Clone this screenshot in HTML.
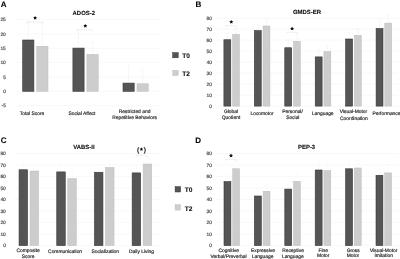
<!DOCTYPE html>
<html><head><meta charset="utf-8"><style>
html,body{margin:0;padding:0;background:#fff;width:400px;height:259px;overflow:hidden}
svg{display:block;filter:grayscale(1) blur(0.35px);text-rendering:geometricPrecision;font-family:"Liberation Sans",sans-serif}
</style></head><body>
<svg width="400" height="259" viewBox="0 0 400 259">
<rect width="400" height="259" fill="#fff"/>
<line x1="14.00" y1="19.55" x2="160.00" y2="19.55" stroke="#f4f4f4" stroke-width="0.6"/>
<text x="5.80" y="21.28" font-size="4.8" text-anchor="end" fill="#444" stroke="#444" stroke-linejoin="round" stroke-width="0.16">25</text>
<line x1="14.00" y1="33.90" x2="160.00" y2="33.90" stroke="#f4f4f4" stroke-width="0.6"/>
<text x="5.80" y="35.63" font-size="4.8" text-anchor="end" fill="#444" stroke="#444" stroke-linejoin="round" stroke-width="0.16">20</text>
<line x1="14.00" y1="48.25" x2="160.00" y2="48.25" stroke="#f4f4f4" stroke-width="0.6"/>
<text x="5.80" y="49.98" font-size="4.8" text-anchor="end" fill="#444" stroke="#444" stroke-linejoin="round" stroke-width="0.16">15</text>
<line x1="14.00" y1="62.60" x2="160.00" y2="62.60" stroke="#f4f4f4" stroke-width="0.6"/>
<text x="5.80" y="64.33" font-size="4.8" text-anchor="end" fill="#444" stroke="#444" stroke-linejoin="round" stroke-width="0.16">10</text>
<line x1="14.00" y1="76.95" x2="160.00" y2="76.95" stroke="#f4f4f4" stroke-width="0.6"/>
<text x="5.80" y="78.68" font-size="4.8" text-anchor="end" fill="#444" stroke="#444" stroke-linejoin="round" stroke-width="0.16">5</text>
<line x1="14.00" y1="91.30" x2="160.00" y2="91.30" stroke="#f4f4f4" stroke-width="0.6"/>
<text x="5.80" y="93.03" font-size="4.8" text-anchor="end" fill="#444" stroke="#444" stroke-linejoin="round" stroke-width="0.16">0</text>
<line x1="14.00" y1="105.65" x2="160.00" y2="105.65" stroke="#f4f4f4" stroke-width="0.6"/>
<text x="5.80" y="107.38" font-size="4.8" text-anchor="end" fill="#444" stroke="#444" stroke-linejoin="round" stroke-width="0.16">-5</text>
<line x1="28.30" y1="22.00" x2="28.30" y2="40.00" stroke="#efefef" stroke-width="0.5"/>
<line x1="26.30" y1="22.00" x2="30.30" y2="22.00" stroke="#efefef" stroke-width="0.4"/>
<line x1="42.35" y1="24.00" x2="42.35" y2="46.25" stroke="#efefef" stroke-width="0.5"/>
<line x1="40.35" y1="24.00" x2="44.35" y2="24.00" stroke="#efefef" stroke-width="0.4"/>
<rect x="22.70" y="40.00" width="11.20" height="51.30" fill="#555555" stroke="#383838" stroke-width="0.6"/>
<rect x="36.70" y="46.25" width="11.30" height="45.05" fill="#cdcdcd" stroke="#bdbdbd" stroke-width="0.5"/>
<line x1="78.50" y1="32.00" x2="78.50" y2="48.10" stroke="#efefef" stroke-width="0.5"/>
<line x1="76.50" y1="32.00" x2="80.50" y2="32.00" stroke="#efefef" stroke-width="0.4"/>
<line x1="92.55" y1="42.00" x2="92.55" y2="54.40" stroke="#efefef" stroke-width="0.5"/>
<line x1="90.55" y1="42.00" x2="94.55" y2="42.00" stroke="#efefef" stroke-width="0.4"/>
<rect x="72.90" y="48.10" width="11.20" height="43.20" fill="#555555" stroke="#383838" stroke-width="0.6"/>
<rect x="86.90" y="54.40" width="11.30" height="36.90" fill="#cdcdcd" stroke="#bdbdbd" stroke-width="0.5"/>
<line x1="128.60" y1="66.00" x2="128.60" y2="83.10" stroke="#efefef" stroke-width="0.5"/>
<line x1="126.60" y1="66.00" x2="130.60" y2="66.00" stroke="#efefef" stroke-width="0.4"/>
<line x1="142.65" y1="70.00" x2="142.65" y2="83.75" stroke="#efefef" stroke-width="0.5"/>
<line x1="140.65" y1="70.00" x2="144.65" y2="70.00" stroke="#efefef" stroke-width="0.4"/>
<rect x="123.00" y="83.10" width="11.20" height="8.20" fill="#555555" stroke="#383838" stroke-width="0.6"/>
<rect x="137.00" y="83.75" width="11.30" height="7.55" fill="#cdcdcd" stroke="#bdbdbd" stroke-width="0.5"/>
<polygon points="35.10,16.00 35.75,17.11 37.00,17.38 36.15,18.34 36.28,19.62 35.10,19.10 33.92,19.62 34.05,18.34 33.20,17.38 34.45,17.11" fill="#111"/>
<line x1="26.60" y1="22.00" x2="42.80" y2="22.00" stroke="#c8c8c8" stroke-width="0.5" stroke-dasharray="1,0.7"/>
<line x1="26.60" y1="22.00" x2="26.60" y2="24.00" stroke="#ddd" stroke-width="0.4"/>
<line x1="42.80" y1="22.00" x2="42.80" y2="24.00" stroke="#ddd" stroke-width="0.4"/>
<polygon points="85.30,23.90 85.95,25.01 87.20,25.28 86.35,26.24 86.48,27.52 85.30,27.00 84.12,27.52 84.25,26.24 83.40,25.28 84.65,25.01" fill="#111"/>
<line x1="77.25" y1="29.75" x2="92.50" y2="29.75" stroke="#c8c8c8" stroke-width="0.5" stroke-dasharray="1,0.7"/>
<line x1="77.25" y1="29.75" x2="77.25" y2="31.75" stroke="#ddd" stroke-width="0.4"/>
<line x1="92.50" y1="29.75" x2="92.50" y2="31.75" stroke="#ddd" stroke-width="0.4"/>
<text x="83.80" y="14.74" font-size="5.95" text-anchor="middle" font-weight="bold" fill="#111" stroke="#111" stroke-linejoin="round" stroke-width="0.1">ADOS-2</text>
<text x="3.60" y="6.78" font-size="8.0" text-anchor="middle" font-weight="bold" fill="#000" stroke="#000" stroke-linejoin="round" stroke-width="0.1">A</text>
<text x="32.00" y="114.76" font-size="4.9" text-anchor="middle" fill="#222" stroke="#222" stroke-linejoin="round" stroke-width="0.16">Total Score</text>
<text x="82.00" y="114.76" font-size="4.9" text-anchor="middle" fill="#222" stroke="#222" stroke-linejoin="round" stroke-width="0.16">Social Affect</text>
<text x="134.60" y="112.51" font-size="4.9" text-anchor="middle" fill="#222" stroke="#222" stroke-linejoin="round" stroke-width="0.16">Restricted and</text>
<text x="134.60" y="118.76" font-size="4.9" text-anchor="middle" fill="#222" stroke="#222" stroke-linejoin="round" stroke-width="0.16">Repetitive Behaviors</text>
<rect x="172.70" y="52.60" width="5.50" height="5.20" fill="#555555" stroke="#383838" stroke-width="0.5"/>
<rect x="172.70" y="70.30" width="5.50" height="5.30" fill="#cdcdcd" stroke="#bdbdbd" stroke-width="0.4"/>
<text x="182.20" y="58.08" font-size="6.6" text-anchor="start" font-weight="bold" fill="#111" stroke="#111" stroke-linejoin="round" stroke-width="0.1">T0</text>
<text x="182.20" y="76.28" font-size="6.6" text-anchor="start" font-weight="bold" fill="#111" stroke="#111" stroke-linejoin="round" stroke-width="0.1">T2</text>
<line x1="216.00" y1="18.12" x2="398.00" y2="18.12" stroke="#f4f4f4" stroke-width="0.6"/>
<text x="211.90" y="19.85" font-size="4.8" text-anchor="end" fill="#444" stroke="#444" stroke-linejoin="round" stroke-width="0.16">80</text>
<line x1="216.00" y1="29.13" x2="398.00" y2="29.13" stroke="#f4f4f4" stroke-width="0.6"/>
<text x="211.90" y="30.86" font-size="4.8" text-anchor="end" fill="#444" stroke="#444" stroke-linejoin="round" stroke-width="0.16">70</text>
<line x1="216.00" y1="40.14" x2="398.00" y2="40.14" stroke="#f4f4f4" stroke-width="0.6"/>
<text x="211.90" y="41.87" font-size="4.8" text-anchor="end" fill="#444" stroke="#444" stroke-linejoin="round" stroke-width="0.16">60</text>
<line x1="216.00" y1="51.15" x2="398.00" y2="51.15" stroke="#f4f4f4" stroke-width="0.6"/>
<text x="211.90" y="52.88" font-size="4.8" text-anchor="end" fill="#444" stroke="#444" stroke-linejoin="round" stroke-width="0.16">50</text>
<line x1="216.00" y1="62.16" x2="398.00" y2="62.16" stroke="#f4f4f4" stroke-width="0.6"/>
<text x="211.90" y="63.89" font-size="4.8" text-anchor="end" fill="#444" stroke="#444" stroke-linejoin="round" stroke-width="0.16">40</text>
<line x1="216.00" y1="73.17" x2="398.00" y2="73.17" stroke="#f4f4f4" stroke-width="0.6"/>
<text x="211.90" y="74.90" font-size="4.8" text-anchor="end" fill="#444" stroke="#444" stroke-linejoin="round" stroke-width="0.16">30</text>
<line x1="216.00" y1="84.18" x2="398.00" y2="84.18" stroke="#f4f4f4" stroke-width="0.6"/>
<text x="211.90" y="85.91" font-size="4.8" text-anchor="end" fill="#444" stroke="#444" stroke-linejoin="round" stroke-width="0.16">20</text>
<line x1="216.00" y1="95.19" x2="398.00" y2="95.19" stroke="#f4f4f4" stroke-width="0.6"/>
<text x="211.90" y="96.92" font-size="4.8" text-anchor="end" fill="#444" stroke="#444" stroke-linejoin="round" stroke-width="0.16">10</text>
<line x1="216.00" y1="106.20" x2="398.00" y2="106.20" stroke="#f4f4f4" stroke-width="0.6"/>
<text x="211.90" y="107.93" font-size="4.8" text-anchor="end" fill="#444" stroke="#444" stroke-linejoin="round" stroke-width="0.16">0</text>
<line x1="227.35" y1="33.00" x2="227.35" y2="39.75" stroke="#efefef" stroke-width="0.5"/>
<line x1="225.35" y1="33.00" x2="229.35" y2="33.00" stroke="#efefef" stroke-width="0.4"/>
<line x1="236.05" y1="28.00" x2="236.05" y2="34.40" stroke="#efefef" stroke-width="0.5"/>
<line x1="234.05" y1="28.00" x2="238.05" y2="28.00" stroke="#efefef" stroke-width="0.4"/>
<rect x="223.90" y="39.75" width="6.90" height="66.35" fill="#555555" stroke="#383838" stroke-width="0.6"/>
<rect x="232.60" y="34.40" width="6.90" height="71.70" fill="#cdcdcd" stroke="#bdbdbd" stroke-width="0.5"/>
<line x1="257.79" y1="24.00" x2="257.79" y2="30.60" stroke="#efefef" stroke-width="0.5"/>
<line x1="255.79" y1="24.00" x2="259.79" y2="24.00" stroke="#efefef" stroke-width="0.4"/>
<line x1="266.49" y1="20.00" x2="266.49" y2="26.00" stroke="#efefef" stroke-width="0.5"/>
<line x1="264.49" y1="20.00" x2="268.49" y2="20.00" stroke="#efefef" stroke-width="0.4"/>
<rect x="254.34" y="30.60" width="6.90" height="75.50" fill="#555555" stroke="#383838" stroke-width="0.6"/>
<rect x="263.04" y="26.00" width="6.90" height="80.10" fill="#cdcdcd" stroke="#bdbdbd" stroke-width="0.5"/>
<line x1="288.23" y1="40.00" x2="288.23" y2="47.75" stroke="#efefef" stroke-width="0.5"/>
<line x1="286.23" y1="40.00" x2="290.23" y2="40.00" stroke="#efefef" stroke-width="0.4"/>
<line x1="296.93" y1="33.00" x2="296.93" y2="41.25" stroke="#efefef" stroke-width="0.5"/>
<line x1="294.93" y1="33.00" x2="298.93" y2="33.00" stroke="#efefef" stroke-width="0.4"/>
<rect x="284.78" y="47.75" width="6.90" height="58.35" fill="#555555" stroke="#383838" stroke-width="0.6"/>
<rect x="293.48" y="41.25" width="6.90" height="64.85" fill="#cdcdcd" stroke="#bdbdbd" stroke-width="0.5"/>
<line x1="318.67" y1="50.00" x2="318.67" y2="56.90" stroke="#efefef" stroke-width="0.5"/>
<line x1="316.67" y1="50.00" x2="320.67" y2="50.00" stroke="#efefef" stroke-width="0.4"/>
<line x1="327.37" y1="45.00" x2="327.37" y2="51.50" stroke="#efefef" stroke-width="0.5"/>
<line x1="325.37" y1="45.00" x2="329.37" y2="45.00" stroke="#efefef" stroke-width="0.4"/>
<rect x="315.22" y="56.90" width="6.90" height="49.20" fill="#555555" stroke="#383838" stroke-width="0.6"/>
<rect x="323.92" y="51.50" width="6.90" height="54.60" fill="#cdcdcd" stroke="#bdbdbd" stroke-width="0.5"/>
<line x1="349.11" y1="32.00" x2="349.11" y2="39.00" stroke="#efefef" stroke-width="0.5"/>
<line x1="347.11" y1="32.00" x2="351.11" y2="32.00" stroke="#efefef" stroke-width="0.4"/>
<line x1="357.81" y1="29.00" x2="357.81" y2="35.40" stroke="#efefef" stroke-width="0.5"/>
<line x1="355.81" y1="29.00" x2="359.81" y2="29.00" stroke="#efefef" stroke-width="0.4"/>
<rect x="345.66" y="39.00" width="6.90" height="67.10" fill="#555555" stroke="#383838" stroke-width="0.6"/>
<rect x="354.36" y="35.40" width="6.90" height="70.70" fill="#cdcdcd" stroke="#bdbdbd" stroke-width="0.5"/>
<line x1="379.55" y1="20.00" x2="379.55" y2="28.50" stroke="#efefef" stroke-width="0.5"/>
<line x1="377.55" y1="20.00" x2="381.55" y2="20.00" stroke="#efefef" stroke-width="0.4"/>
<line x1="388.25" y1="15.00" x2="388.25" y2="23.10" stroke="#efefef" stroke-width="0.5"/>
<line x1="386.25" y1="15.00" x2="390.25" y2="15.00" stroke="#efefef" stroke-width="0.4"/>
<rect x="376.10" y="28.50" width="6.90" height="77.60" fill="#555555" stroke="#383838" stroke-width="0.6"/>
<rect x="384.80" y="23.10" width="6.90" height="83.00" fill="#cdcdcd" stroke="#bdbdbd" stroke-width="0.5"/>
<polygon points="231.25,19.90 231.90,21.01 233.15,21.28 232.30,22.24 232.43,23.52 231.25,23.00 230.07,23.52 230.20,22.24 229.35,21.28 230.60,21.01" fill="#111"/>
<line x1="226.00" y1="25.60" x2="236.00" y2="25.60" stroke="#c8c8c8" stroke-width="0.5" stroke-dasharray="1,0.7"/>
<line x1="226.00" y1="25.60" x2="226.00" y2="27.60" stroke="#ddd" stroke-width="0.4"/>
<line x1="236.00" y1="25.60" x2="236.00" y2="27.60" stroke="#ddd" stroke-width="0.4"/>
<polygon points="292.10,26.75 292.75,27.86 294.00,28.13 293.15,29.09 293.28,30.37 292.10,29.85 290.92,30.37 291.05,29.09 290.20,28.13 291.45,27.86" fill="#111"/>
<line x1="286.90" y1="32.25" x2="297.50" y2="32.25" stroke="#c8c8c8" stroke-width="0.5" stroke-dasharray="1,0.7"/>
<line x1="286.90" y1="32.25" x2="286.90" y2="34.25" stroke="#ddd" stroke-width="0.4"/>
<line x1="297.50" y1="32.25" x2="297.50" y2="34.25" stroke="#ddd" stroke-width="0.4"/>
<text x="306.90" y="14.04" font-size="5.95" text-anchor="middle" font-weight="bold" fill="#111" stroke="#111" stroke-linejoin="round" stroke-width="0.1">GMDS-ER</text>
<text x="198.30" y="7.28" font-size="8.0" text-anchor="middle" font-weight="bold" fill="#000" stroke="#000" stroke-linejoin="round" stroke-width="0.1">B</text>
<text x="231.00" y="113.01" font-size="4.9" text-anchor="middle" fill="#222" stroke="#222" stroke-linejoin="round" stroke-width="0.16">Global</text>
<text x="231.00" y="118.76" font-size="4.9" text-anchor="middle" fill="#222" stroke="#222" stroke-linejoin="round" stroke-width="0.16">Quotient</text>
<text x="262.00" y="114.76" font-size="4.9" text-anchor="middle" fill="#222" stroke="#222" stroke-linejoin="round" stroke-width="0.16">Locomotor</text>
<text x="292.50" y="112.76" font-size="4.9" text-anchor="middle" fill="#222" stroke="#222" stroke-linejoin="round" stroke-width="0.16">Personal/</text>
<text x="292.80" y="118.76" font-size="4.9" text-anchor="middle" fill="#222" stroke="#222" stroke-linejoin="round" stroke-width="0.16">Social</text>
<text x="322.70" y="114.76" font-size="4.9" text-anchor="middle" fill="#222" stroke="#222" stroke-linejoin="round" stroke-width="0.16">Language</text>
<text x="353.50" y="113.01" font-size="4.9" text-anchor="middle" fill="#222" stroke="#222" stroke-linejoin="round" stroke-width="0.16">Visual-Motor</text>
<text x="353.90" y="119.76" font-size="4.9" text-anchor="middle" fill="#222" stroke="#222" stroke-linejoin="round" stroke-width="0.16">Coordination</text>
<text x="386.50" y="114.76" font-size="4.9" text-anchor="middle" fill="#222" stroke="#222" stroke-linejoin="round" stroke-width="0.16">Performance</text>
<line x1="14.00" y1="153.44" x2="160.00" y2="153.44" stroke="#f4f4f4" stroke-width="0.6"/>
<text x="5.80" y="155.17" font-size="4.8" text-anchor="end" fill="#444" stroke="#444" stroke-linejoin="round" stroke-width="0.16">80</text>
<line x1="14.00" y1="164.96" x2="160.00" y2="164.96" stroke="#f4f4f4" stroke-width="0.6"/>
<text x="5.80" y="166.69" font-size="4.8" text-anchor="end" fill="#444" stroke="#444" stroke-linejoin="round" stroke-width="0.16">70</text>
<line x1="14.00" y1="176.48" x2="160.00" y2="176.48" stroke="#f4f4f4" stroke-width="0.6"/>
<text x="5.80" y="178.21" font-size="4.8" text-anchor="end" fill="#444" stroke="#444" stroke-linejoin="round" stroke-width="0.16">60</text>
<line x1="14.00" y1="188.00" x2="160.00" y2="188.00" stroke="#f4f4f4" stroke-width="0.6"/>
<text x="5.80" y="189.73" font-size="4.8" text-anchor="end" fill="#444" stroke="#444" stroke-linejoin="round" stroke-width="0.16">50</text>
<line x1="14.00" y1="199.52" x2="160.00" y2="199.52" stroke="#f4f4f4" stroke-width="0.6"/>
<text x="5.80" y="201.25" font-size="4.8" text-anchor="end" fill="#444" stroke="#444" stroke-linejoin="round" stroke-width="0.16">40</text>
<line x1="14.00" y1="211.04" x2="160.00" y2="211.04" stroke="#f4f4f4" stroke-width="0.6"/>
<text x="5.80" y="212.77" font-size="4.8" text-anchor="end" fill="#444" stroke="#444" stroke-linejoin="round" stroke-width="0.16">30</text>
<line x1="14.00" y1="222.56" x2="160.00" y2="222.56" stroke="#f4f4f4" stroke-width="0.6"/>
<text x="5.80" y="224.29" font-size="4.8" text-anchor="end" fill="#444" stroke="#444" stroke-linejoin="round" stroke-width="0.16">20</text>
<line x1="14.00" y1="234.08" x2="160.00" y2="234.08" stroke="#f4f4f4" stroke-width="0.6"/>
<text x="5.80" y="235.81" font-size="4.8" text-anchor="end" fill="#444" stroke="#444" stroke-linejoin="round" stroke-width="0.16">10</text>
<line x1="14.00" y1="245.60" x2="160.00" y2="245.60" stroke="#f4f4f4" stroke-width="0.6"/>
<text x="5.80" y="247.33" font-size="4.8" text-anchor="end" fill="#444" stroke="#444" stroke-linejoin="round" stroke-width="0.16">0</text>
<line x1="23.30" y1="163.00" x2="23.30" y2="169.75" stroke="#f6f6f6" stroke-width="0.5"/>
<line x1="21.30" y1="163.00" x2="25.30" y2="163.00" stroke="#f6f6f6" stroke-width="0.4"/>
<line x1="34.35" y1="166.00" x2="34.35" y2="171.00" stroke="#f6f6f6" stroke-width="0.5"/>
<line x1="32.35" y1="166.00" x2="36.35" y2="166.00" stroke="#f6f6f6" stroke-width="0.4"/>
<rect x="19.05" y="169.75" width="8.50" height="75.85" fill="#555555" stroke="#383838" stroke-width="0.6"/>
<rect x="30.05" y="171.00" width="8.60" height="74.60" fill="#cdcdcd" stroke="#bdbdbd" stroke-width="0.5"/>
<line x1="61.00" y1="164.00" x2="61.00" y2="171.90" stroke="#f6f6f6" stroke-width="0.5"/>
<line x1="59.00" y1="164.00" x2="63.00" y2="164.00" stroke="#f6f6f6" stroke-width="0.4"/>
<line x1="72.05" y1="170.00" x2="72.05" y2="178.50" stroke="#f6f6f6" stroke-width="0.5"/>
<line x1="70.05" y1="170.00" x2="74.05" y2="170.00" stroke="#f6f6f6" stroke-width="0.4"/>
<rect x="56.75" y="171.90" width="8.50" height="73.70" fill="#555555" stroke="#383838" stroke-width="0.6"/>
<rect x="67.75" y="178.50" width="8.60" height="67.10" fill="#cdcdcd" stroke="#bdbdbd" stroke-width="0.5"/>
<line x1="98.70" y1="165.00" x2="98.70" y2="172.25" stroke="#f6f6f6" stroke-width="0.5"/>
<line x1="96.70" y1="165.00" x2="100.70" y2="165.00" stroke="#f6f6f6" stroke-width="0.4"/>
<line x1="109.75" y1="160.00" x2="109.75" y2="167.50" stroke="#f6f6f6" stroke-width="0.5"/>
<line x1="107.75" y1="160.00" x2="111.75" y2="160.00" stroke="#f6f6f6" stroke-width="0.4"/>
<rect x="94.45" y="172.25" width="8.50" height="73.35" fill="#555555" stroke="#383838" stroke-width="0.6"/>
<rect x="105.45" y="167.50" width="8.60" height="78.10" fill="#cdcdcd" stroke="#bdbdbd" stroke-width="0.5"/>
<line x1="136.40" y1="166.00" x2="136.40" y2="172.90" stroke="#f6f6f6" stroke-width="0.5"/>
<line x1="134.40" y1="166.00" x2="138.40" y2="166.00" stroke="#f6f6f6" stroke-width="0.4"/>
<line x1="147.45" y1="157.00" x2="147.45" y2="164.00" stroke="#f6f6f6" stroke-width="0.5"/>
<line x1="145.45" y1="157.00" x2="149.45" y2="157.00" stroke="#f6f6f6" stroke-width="0.4"/>
<rect x="132.15" y="172.90" width="8.50" height="72.70" fill="#555555" stroke="#383838" stroke-width="0.6"/>
<rect x="143.15" y="164.00" width="8.60" height="81.60" fill="#cdcdcd" stroke="#bdbdbd" stroke-width="0.5"/>
<text x="138.20" y="151.61" font-size="6.7" text-anchor="middle" font-weight="bold" fill="#222" stroke="#222" stroke-linejoin="round" stroke-width="0.1">(</text>
<text x="144.80" y="151.61" font-size="6.7" text-anchor="middle" font-weight="bold" fill="#222" stroke="#222" stroke-linejoin="round" stroke-width="0.1">)</text>
<polygon points="141.40,147.35 141.99,148.39 143.16,148.63 142.35,149.51 142.49,150.70 141.40,150.20 140.31,150.70 140.45,149.51 139.64,148.63 140.81,148.39" fill="#111"/>
<line x1="136.25" y1="155.25" x2="146.90" y2="155.25" stroke="#c8c8c8" stroke-width="0.5" stroke-dasharray="1,0.7"/>
<line x1="136.25" y1="155.25" x2="136.25" y2="157.25" stroke="#ddd" stroke-width="0.4"/>
<line x1="146.90" y1="155.25" x2="146.90" y2="157.25" stroke="#ddd" stroke-width="0.4"/>
<text x="83.90" y="148.74" font-size="5.95" text-anchor="middle" font-weight="bold" fill="#111" stroke="#111" stroke-linejoin="round" stroke-width="0.1">VABS-II</text>
<text x="3.75" y="142.78" font-size="8.0" text-anchor="middle" font-weight="bold" fill="#000" stroke="#000" stroke-linejoin="round" stroke-width="0.1">C</text>
<text x="28.10" y="252.16" font-size="4.9" text-anchor="middle" fill="#222" stroke="#222" stroke-linejoin="round" stroke-width="0.16">Composite</text>
<text x="28.10" y="257.56" font-size="4.9" text-anchor="middle" fill="#222" stroke="#222" stroke-linejoin="round" stroke-width="0.16">Score</text>
<text x="65.10" y="252.96" font-size="4.9" text-anchor="middle" fill="#222" stroke="#222" stroke-linejoin="round" stroke-width="0.16">Communication</text>
<text x="105.30" y="253.16" font-size="4.9" text-anchor="middle" fill="#222" stroke="#222" stroke-linejoin="round" stroke-width="0.16">Socialization</text>
<text x="141.50" y="253.16" font-size="4.9" text-anchor="middle" fill="#222" stroke="#222" stroke-linejoin="round" stroke-width="0.16">Daily Living</text>
<rect x="175.10" y="186.60" width="5.50" height="5.40" fill="#555555" stroke="#383838" stroke-width="0.5"/>
<rect x="175.10" y="204.60" width="5.50" height="5.50" fill="#cdcdcd" stroke="#bdbdbd" stroke-width="0.4"/>
<text x="184.70" y="192.28" font-size="6.6" text-anchor="start" font-weight="bold" fill="#111" stroke="#111" stroke-linejoin="round" stroke-width="0.1">T0</text>
<text x="184.70" y="210.68" font-size="6.6" text-anchor="start" font-weight="bold" fill="#111" stroke="#111" stroke-linejoin="round" stroke-width="0.1">T2</text>
<line x1="216.00" y1="153.44" x2="398.00" y2="153.44" stroke="#f4f4f4" stroke-width="0.6"/>
<text x="211.90" y="155.17" font-size="4.8" text-anchor="end" fill="#444" stroke="#444" stroke-linejoin="round" stroke-width="0.16">80</text>
<line x1="216.00" y1="164.96" x2="398.00" y2="164.96" stroke="#f4f4f4" stroke-width="0.6"/>
<text x="211.90" y="166.69" font-size="4.8" text-anchor="end" fill="#444" stroke="#444" stroke-linejoin="round" stroke-width="0.16">70</text>
<line x1="216.00" y1="176.48" x2="398.00" y2="176.48" stroke="#f4f4f4" stroke-width="0.6"/>
<text x="211.90" y="178.21" font-size="4.8" text-anchor="end" fill="#444" stroke="#444" stroke-linejoin="round" stroke-width="0.16">60</text>
<line x1="216.00" y1="188.00" x2="398.00" y2="188.00" stroke="#f4f4f4" stroke-width="0.6"/>
<text x="211.90" y="189.73" font-size="4.8" text-anchor="end" fill="#444" stroke="#444" stroke-linejoin="round" stroke-width="0.16">50</text>
<line x1="216.00" y1="199.52" x2="398.00" y2="199.52" stroke="#f4f4f4" stroke-width="0.6"/>
<text x="211.90" y="201.25" font-size="4.8" text-anchor="end" fill="#444" stroke="#444" stroke-linejoin="round" stroke-width="0.16">40</text>
<line x1="216.00" y1="211.04" x2="398.00" y2="211.04" stroke="#f4f4f4" stroke-width="0.6"/>
<text x="211.90" y="212.77" font-size="4.8" text-anchor="end" fill="#444" stroke="#444" stroke-linejoin="round" stroke-width="0.16">30</text>
<line x1="216.00" y1="222.56" x2="398.00" y2="222.56" stroke="#f4f4f4" stroke-width="0.6"/>
<text x="211.90" y="224.29" font-size="4.8" text-anchor="end" fill="#444" stroke="#444" stroke-linejoin="round" stroke-width="0.16">20</text>
<line x1="216.00" y1="234.08" x2="398.00" y2="234.08" stroke="#f4f4f4" stroke-width="0.6"/>
<text x="211.90" y="235.81" font-size="4.8" text-anchor="end" fill="#444" stroke="#444" stroke-linejoin="round" stroke-width="0.16">10</text>
<line x1="216.00" y1="245.60" x2="398.00" y2="245.60" stroke="#f4f4f4" stroke-width="0.6"/>
<text x="211.90" y="247.33" font-size="4.8" text-anchor="end" fill="#444" stroke="#444" stroke-linejoin="round" stroke-width="0.16">0</text>
<line x1="227.45" y1="175.00" x2="227.45" y2="181.60" stroke="#f6f6f6" stroke-width="0.5"/>
<line x1="225.45" y1="175.00" x2="229.45" y2="175.00" stroke="#f6f6f6" stroke-width="0.4"/>
<line x1="236.15" y1="160.00" x2="236.15" y2="168.75" stroke="#f6f6f6" stroke-width="0.5"/>
<line x1="234.15" y1="160.00" x2="238.15" y2="160.00" stroke="#f6f6f6" stroke-width="0.4"/>
<rect x="224.00" y="181.60" width="6.90" height="64.00" fill="#555555" stroke="#383838" stroke-width="0.6"/>
<rect x="232.70" y="168.75" width="6.90" height="76.85" fill="#cdcdcd" stroke="#bdbdbd" stroke-width="0.5"/>
<line x1="257.85" y1="188.00" x2="257.85" y2="196.00" stroke="#f6f6f6" stroke-width="0.5"/>
<line x1="255.85" y1="188.00" x2="259.85" y2="188.00" stroke="#f6f6f6" stroke-width="0.4"/>
<line x1="266.55" y1="184.00" x2="266.55" y2="191.25" stroke="#f6f6f6" stroke-width="0.5"/>
<line x1="264.55" y1="184.00" x2="268.55" y2="184.00" stroke="#f6f6f6" stroke-width="0.4"/>
<rect x="254.40" y="196.00" width="6.90" height="49.60" fill="#555555" stroke="#383838" stroke-width="0.6"/>
<rect x="263.10" y="191.25" width="6.90" height="54.35" fill="#cdcdcd" stroke="#bdbdbd" stroke-width="0.5"/>
<line x1="288.25" y1="182.00" x2="288.25" y2="189.10" stroke="#f6f6f6" stroke-width="0.5"/>
<line x1="286.25" y1="182.00" x2="290.25" y2="182.00" stroke="#f6f6f6" stroke-width="0.4"/>
<line x1="296.95" y1="173.00" x2="296.95" y2="181.25" stroke="#f6f6f6" stroke-width="0.5"/>
<line x1="294.95" y1="173.00" x2="298.95" y2="173.00" stroke="#f6f6f6" stroke-width="0.4"/>
<rect x="284.80" y="189.10" width="6.90" height="56.50" fill="#555555" stroke="#383838" stroke-width="0.6"/>
<rect x="293.50" y="181.25" width="6.90" height="64.35" fill="#cdcdcd" stroke="#bdbdbd" stroke-width="0.5"/>
<line x1="318.65" y1="162.00" x2="318.65" y2="170.00" stroke="#f6f6f6" stroke-width="0.5"/>
<line x1="316.65" y1="162.00" x2="320.65" y2="162.00" stroke="#f6f6f6" stroke-width="0.4"/>
<line x1="327.35" y1="163.00" x2="327.35" y2="170.60" stroke="#f6f6f6" stroke-width="0.5"/>
<line x1="325.35" y1="163.00" x2="329.35" y2="163.00" stroke="#f6f6f6" stroke-width="0.4"/>
<rect x="315.20" y="170.00" width="6.90" height="75.60" fill="#555555" stroke="#383838" stroke-width="0.6"/>
<rect x="323.90" y="170.60" width="6.90" height="75.00" fill="#cdcdcd" stroke="#bdbdbd" stroke-width="0.5"/>
<line x1="349.05" y1="160.00" x2="349.05" y2="168.80" stroke="#f6f6f6" stroke-width="0.5"/>
<line x1="347.05" y1="160.00" x2="351.05" y2="160.00" stroke="#f6f6f6" stroke-width="0.4"/>
<line x1="357.75" y1="160.00" x2="357.75" y2="168.00" stroke="#f6f6f6" stroke-width="0.5"/>
<line x1="355.75" y1="160.00" x2="359.75" y2="160.00" stroke="#f6f6f6" stroke-width="0.4"/>
<rect x="345.60" y="168.80" width="6.90" height="76.80" fill="#555555" stroke="#383838" stroke-width="0.6"/>
<rect x="354.30" y="168.00" width="6.90" height="77.60" fill="#cdcdcd" stroke="#bdbdbd" stroke-width="0.5"/>
<line x1="379.45" y1="167.00" x2="379.45" y2="175.30" stroke="#f6f6f6" stroke-width="0.5"/>
<line x1="377.45" y1="167.00" x2="381.45" y2="167.00" stroke="#f6f6f6" stroke-width="0.4"/>
<line x1="388.15" y1="165.00" x2="388.15" y2="172.90" stroke="#f6f6f6" stroke-width="0.5"/>
<line x1="386.15" y1="165.00" x2="390.15" y2="165.00" stroke="#f6f6f6" stroke-width="0.4"/>
<rect x="376.00" y="175.30" width="6.90" height="70.30" fill="#555555" stroke="#383838" stroke-width="0.6"/>
<rect x="384.70" y="172.90" width="6.90" height="72.70" fill="#cdcdcd" stroke="#bdbdbd" stroke-width="0.5"/>
<polygon points="231.00,153.60 231.65,154.71 232.90,154.98 232.05,155.94 232.18,157.22 231.00,156.70 229.82,157.22 229.95,155.94 229.10,154.98 230.35,154.71" fill="#111"/>
<line x1="225.60" y1="159.40" x2="236.25" y2="159.40" stroke="#c8c8c8" stroke-width="0.5" stroke-dasharray="1,0.7"/>
<line x1="225.60" y1="159.40" x2="225.60" y2="161.40" stroke="#ddd" stroke-width="0.4"/>
<line x1="236.25" y1="159.40" x2="236.25" y2="161.40" stroke="#ddd" stroke-width="0.4"/>
<text x="306.60" y="148.74" font-size="5.95" text-anchor="middle" font-weight="bold" fill="#111" stroke="#111" stroke-linejoin="round" stroke-width="0.1">PEP-3</text>
<text x="198.10" y="142.88" font-size="8.0" text-anchor="middle" font-weight="bold" fill="#000" stroke="#000" stroke-linejoin="round" stroke-width="0.1">D</text>
<text x="228.70" y="252.26" font-size="4.9" text-anchor="middle" fill="#222" stroke="#222" stroke-linejoin="round" stroke-width="0.16">Cognitive</text>
<text x="228.60" y="257.66" font-size="4.9" text-anchor="middle" fill="#222" stroke="#222" stroke-linejoin="round" stroke-width="0.16">Verbal/Preverbal</text>
<text x="263.00" y="252.11" font-size="4.9" text-anchor="middle" fill="#222" stroke="#222" stroke-linejoin="round" stroke-width="0.16">Expressive</text>
<text x="262.60" y="257.76" font-size="4.9" text-anchor="middle" fill="#222" stroke="#222" stroke-linejoin="round" stroke-width="0.16">Language</text>
<text x="293.00" y="252.11" font-size="4.9" text-anchor="middle" fill="#222" stroke="#222" stroke-linejoin="round" stroke-width="0.16">Receptive</text>
<text x="292.80" y="257.76" font-size="4.9" text-anchor="middle" fill="#222" stroke="#222" stroke-linejoin="round" stroke-width="0.16">Language</text>
<text x="323.20" y="252.01" font-size="4.9" text-anchor="middle" fill="#222" stroke="#222" stroke-linejoin="round" stroke-width="0.16">Fine</text>
<text x="323.20" y="257.36" font-size="4.9" text-anchor="middle" fill="#222" stroke="#222" stroke-linejoin="round" stroke-width="0.16">Motor</text>
<text x="353.20" y="252.16" font-size="4.9" text-anchor="middle" fill="#222" stroke="#222" stroke-linejoin="round" stroke-width="0.16">Gross</text>
<text x="353.00" y="257.46" font-size="4.9" text-anchor="middle" fill="#222" stroke="#222" stroke-linejoin="round" stroke-width="0.16">Motor</text>
<text x="383.70" y="252.06" font-size="4.9" text-anchor="middle" fill="#222" stroke="#222" stroke-linejoin="round" stroke-width="0.16">Visual-Motor</text>
<text x="383.70" y="257.46" font-size="4.9" text-anchor="middle" fill="#222" stroke="#222" stroke-linejoin="round" stroke-width="0.16">Imitation</text>
</svg>
</body></html>
